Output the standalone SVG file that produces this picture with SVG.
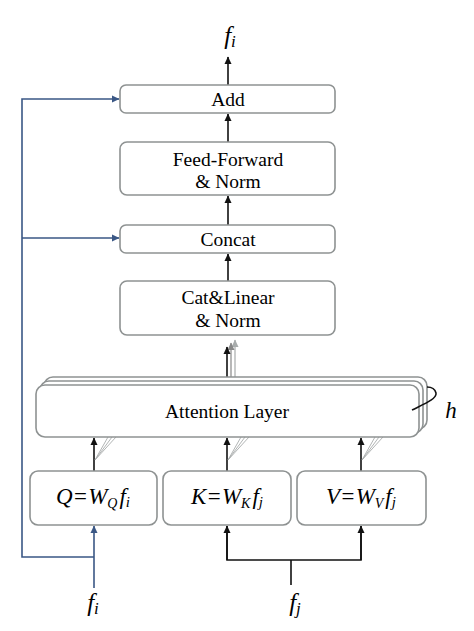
<svg xmlns="http://www.w3.org/2000/svg" width="474" height="631" viewBox="0 0 474 631">
<style>
.box{fill:#fff;stroke:#8e9292;stroke-width:1.6}
.lbl{font-family:"Liberation Serif","Times New Roman",serif;font-size:19.5px;fill:#000;text-anchor:middle}
.math{font-family:"Liberation Serif","Times New Roman",serif;font-style:italic;fill:#000;text-anchor:middle}
.blk{stroke:#111;stroke-width:1.6;fill:none}
.blu{stroke:#3a5785;stroke-width:1.6;fill:none}
.fan{stroke:#a8acac;stroke-width:0.9;fill:none}
</style>
<defs>
<marker id="ab" markerWidth="8" markerHeight="8" refX="7" refY="4" orient="auto" markerUnits="userSpaceOnUse"><path d="M0,0.5 L7.5,4 L0,7.5 Z" fill="#111"/></marker>
<marker id="au" markerWidth="8" markerHeight="8" refX="7" refY="4" orient="auto" markerUnits="userSpaceOnUse"><path d="M0,0.5 L7.5,4 L0,7.5 Z" fill="#3a5785"/></marker>
<marker id="ag1" markerWidth="8" markerHeight="8" refX="7" refY="4" orient="auto" markerUnits="userSpaceOnUse"><path d="M0,0.5 L7.5,4 L0,7.5 Z" fill="#888"/></marker>
<marker id="ag2" markerWidth="8" markerHeight="8" refX="7" refY="4" orient="auto" markerUnits="userSpaceOnUse"><path d="M0,0.5 L7.5,4 L0,7.5 Z" fill="#a8acac"/></marker>
</defs>
<rect width="474" height="631" fill="#fff"/>

<g id="connectors">
  <line class="blk" x1="228" y1="85" x2="228" y2="57" marker-end="url(#ab)"/>
  <line class="blk" x1="228" y1="142" x2="228" y2="114" marker-end="url(#ab)"/>
  <line class="blk" x1="228" y1="225" x2="228" y2="196" marker-end="url(#ab)"/>
  <line class="blk" x1="228" y1="281" x2="228" y2="254" marker-end="url(#ab)"/>
  <line x1="235" y1="377" x2="235" y2="340" stroke="#a8acac" stroke-width="1.2" marker-end="url(#ag2)"/>
  <line x1="231" y1="381" x2="231" y2="343" stroke="#888" stroke-width="1.2" marker-end="url(#ag1)"/>
  <line class="blk" x1="227" y1="385" x2="227" y2="347" marker-end="url(#ab)"/>
  <line class="blk" x1="94" y1="471" x2="94" y2="438" marker-end="url(#ab)"/>
  <line class="blk" x1="227" y1="471" x2="227" y2="438" marker-end="url(#ab)"/>
  <line class="blk" x1="361" y1="471" x2="361" y2="438" marker-end="url(#ab)"/>
  <path class="fan" d="M95,460 L108,437 M95,460 L112,437 M95,460 L116,437"/>
  <path class="fan" d="M228,460 L241,437 M228,460 L245,437 M228,460 L249,437"/>
  <path class="fan" d="M362,460 L375,437 M362,460 L379,437 M362,460 L383,437"/>
  <line class="blu" x1="94" y1="588" x2="94" y2="526" marker-end="url(#au)"/>
  <polyline class="blu" points="94,557 22,557 22,99 119,99" marker-end="url(#au)"/>
  <line class="blu" x1="22" y1="238" x2="119" y2="238" marker-end="url(#au)"/>
  <line class="blk" x1="291" y1="585" x2="291" y2="560"/>
  <polyline class="blk" points="227,526 227,560 361,560 361,526"/>
  <line class="blk" x1="227" y1="560" x2="227" y2="526" marker-end="url(#ab)"/>
  <line class="blk" x1="361" y1="560" x2="361" y2="526" marker-end="url(#ab)"/>
</g>

<g id="out-fi"><text class="math" x="230" y="44" font-size="25">f<tspan font-size="17" dy="3">i</tspan></text></g>

<g id="add"><rect class="box" x="120" y="85" width="215" height="28" rx="6"/><text class="lbl" x="228" y="106">Add</text></g>

<g id="ffn"><rect class="box" x="120" y="142" width="215" height="53" rx="7"/><text class="lbl" x="228" y="166">Feed-Forward</text><text class="lbl" x="228" y="188">&amp; Norm</text></g>

<g id="concat"><rect class="box" x="120" y="225" width="215" height="28" rx="6"/><text class="lbl" x="228" y="246">Concat</text></g>

<g id="catlinear"><rect class="box" x="120" y="281" width="215" height="54" rx="7"/><text class="lbl" x="228" y="304">Cat&amp;Linear</text><text class="lbl" x="228" y="327">&amp; Norm</text></g>

<g id="attention">
  <rect class="box" x="44" y="377" width="383" height="52" rx="9"/>
  <rect class="box" x="40" y="381" width="383" height="52" rx="9"/>
  <rect class="box" x="36" y="385" width="383" height="52" rx="9"/>
  <text class="lbl" x="227" y="418">Attention Layer</text>
  <path class="blk" d="M412,410 C424,404 437,399 436,393 C435,389 431,387 427,387"/>
  <text class="math" x="451" y="418" font-size="23">h</text>
</g>

<g id="q"><rect class="box" x="30" y="471" width="127" height="54" rx="8"/><text class="math" x="93" y="504" font-size="23">Q=W<tspan font-size="14" dy="4">Q</tspan><tspan dy="-4" dx="2">f</tspan><tspan font-size="15" dy="3">i</tspan></text></g>

<g id="k"><rect class="box" x="163" y="471" width="128" height="54" rx="8"/><text class="math" x="227" y="504" font-size="23">K=W<tspan font-size="14" dy="4">K</tspan><tspan dy="-4" dx="2">f</tspan><tspan font-size="15" dy="3">j</tspan></text></g>

<g id="v"><rect class="box" x="297" y="471" width="129" height="54" rx="8"/><text class="math" x="361" y="504" font-size="23">V=W<tspan font-size="14" dy="4">V</tspan><tspan dy="-4" dx="2">f</tspan><tspan font-size="15" dy="3">j</tspan></text></g>

<g id="in-fi"><text class="math" x="93" y="611" font-size="25">f<tspan font-size="17" dy="3">i</tspan></text></g>
<g id="in-fj"><text class="math" x="295" y="611" font-size="25">f<tspan font-size="17" dy="3">j</tspan></text></g>
</svg>
